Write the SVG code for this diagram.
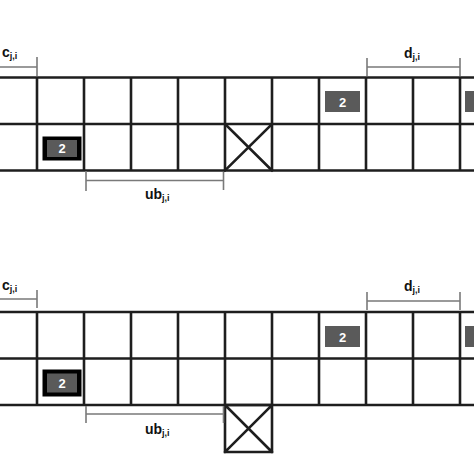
<svg xmlns="http://www.w3.org/2000/svg" width="474" height="474" viewBox="0 0 474 474">
<style>
.g{stroke:#1e1e1e;stroke-width:2.6;fill:none;stroke-linecap:square}
.b{stroke:#7a7a7a;stroke-width:1.6;fill:none}
.lbl{font-family:"Liberation Sans",Arial,sans-serif;font-weight:bold;font-size:14px;fill:#111}
.sub{font-size:9px}
.box{fill:#5a5a5a}
.num{font-family:"Liberation Sans",Arial,sans-serif;font-weight:bold;font-size:13px;fill:#fff;text-anchor:middle}
</style>
<rect width="474" height="474" fill="#fff"/>
<g id="grid-top">
  <path class="g" d="M0 77.5H474M0 124H474M0 170.5H474M37 77.5V170.5M84 77.5V170.5M131 77.5V170.5M178 77.5V170.5M225 77.5V170.5M272 77.5V170.5M319 77.5V170.5M366 77.5V170.5M413 77.5V170.5M460 77.5V170.5"/>
  <path class="g" d="M225 124L272 170.5M272 124L225 170.5"/>
</g>
<g id="boxes-top">
  <rect x="42.5" y="136.5" width="39" height="24" fill="#000"/>
  <rect class="box" x="47" y="140" width="30" height="17"/>
  <text class="num" x="62" y="153">2</text>
  <rect class="box" x="325" y="91" width="35" height="21"/>
  <text class="num" x="342.5" y="106.5">2</text>
  <rect class="box" x="465" y="91" width="35" height="21"/>
</g>
<g id="brackets-top">
  <path class="b" d="M0 67H37M37 57V76"/>
  <text class="lbl" x="2" y="57">c<tspan class="sub" dy="2">j,i</tspan></text>
  <path class="b" d="M367 67H460M367 58V76M460 58V76"/>
  <text class="lbl" x="404" y="58">d<tspan class="sub" dy="2">j,i</tspan></text>
  <path class="b" d="M86 180.5H223.5M86 171V191M223.5 172V190"/>
  <text class="lbl" x="145" y="199">ub<tspan class="sub" dy="2">j,i</tspan></text>
</g>
<g id="grid-bottom">
  <path class="g" d="M0 312H474M0 358.5H474M0 405H474M37 312V405M84 312V405M131 312V405M178 312V405M225 312V405M272 312V405M319 312V405M366 312V405M413 312V405M460 312V405"/>
  <path class="g" d="M225 405H272V452H225ZM225 405L272 452M272 405L225 452"/>
</g>
<g id="boxes-bottom">
  <rect x="42.5" y="369.5" width="39" height="27" fill="#000"/>
  <rect class="box" x="47" y="373.5" width="30" height="19"/>
  <text class="num" x="62" y="388">2</text>
  <rect class="box" x="325" y="326" width="35" height="21"/>
  <text class="num" x="342.5" y="341.5">2</text>
  <rect class="box" x="465" y="326" width="35" height="21"/>
</g>
<g id="brackets-bottom">
  <path class="b" d="M0 299H37M37 290V308"/>
  <text class="lbl" x="2" y="290">c<tspan class="sub" dy="2">j,i</tspan></text>
  <path class="b" d="M367 301H460M367 292V310M460 292V310"/>
  <text class="lbl" x="404" y="291">d<tspan class="sub" dy="2">j,i</tspan></text>
  <path class="b" d="M86 414H223.5M86 406V423M223.5 406V423"/>
  <text class="lbl" x="145" y="434">ub<tspan class="sub" dy="2">j,i</tspan></text>
</g>
</svg>
